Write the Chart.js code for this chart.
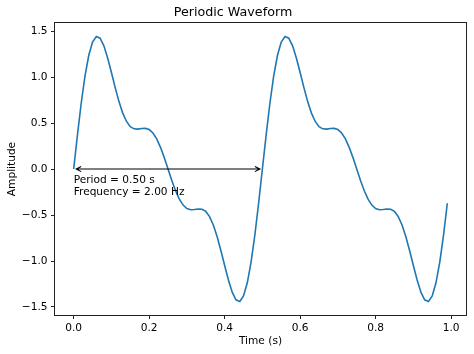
<!DOCTYPE html>
<html>
<head>
<meta charset="utf-8">
<script src="https://cdn.jsdelivr.net/npm/chart.js@4/dist/chart.umd.min.js"></script>
<style>
  html, body { margin: 0; padding: 0; background: #ffffff; }
  #wrap { width: 474px; height: 354px; }
</style>
</head>
<body>
<div id="wrap"><canvas id="c" width="474" height="354"></canvas></div>
<script>
// ---- data ----
const times = [
  0.00,0.01,0.02,0.03,0.04,0.05,0.06,0.07,0.08,0.09,
  0.10,0.11,0.12,0.13,0.14,0.15,0.16,0.17,0.18,0.19,
  0.20,0.21,0.22,0.23,0.24,0.25,0.26,0.27,0.28,0.29,
  0.30,0.31,0.32,0.33,0.34,0.35,0.36,0.37,0.38,0.39,
  0.40,0.41,0.42,0.43,0.44,0.45,0.46,0.47,0.48,0.49,
  0.50,0.51,0.52,0.53,0.54,0.55,0.56,0.57,0.58,0.59,
  0.60,0.61,0.62,0.63,0.64,0.65,0.66,0.67,0.68,0.69,
  0.70,0.71,0.72,0.73,0.74,0.75,0.76,0.77,0.78,0.79,
  0.80,0.81,0.82,0.83,0.84,0.85,0.86,0.87,0.88,0.89,
  0.90,0.91,0.92,0.93,0.94,0.95,0.96,0.97,0.98,0.99
];
const amplitude = [
  0.000,0.372,0.718,1.012,1.237,1.380,1.440,1.422,1.339,1.207,
  1.049,0.885,0.733,0.608,0.517,0.461,0.437,0.434,0.440,0.442,
  0.429,0.392,0.327,0.236,0.124,0.000,-0.124,-0.236,-0.327,-0.392,
  -0.429,-0.442,-0.440,-0.434,-0.437,-0.461,-0.517,-0.608,-0.733,-0.885,
  -1.049,-1.207,-1.339,-1.422,-1.440,-1.380,-1.237,-1.012,-0.718,-0.372,
  0.000,0.372,0.718,1.012,1.237,1.380,1.440,1.422,1.339,1.207,
  1.049,0.885,0.733,0.608,0.517,0.461,0.437,0.434,0.440,0.442,
  0.429,0.392,0.327,0.236,0.124,0.000,-0.124,-0.236,-0.327,-0.392,
  -0.429,-0.442,-0.440,-0.434,-0.437,-0.461,-0.517,-0.608,-0.733,-0.885,
  -1.049,-1.207,-1.339,-1.422,-1.440,-1.380,-1.237,-1.012,-0.718,-0.372
];
const xTicks = [0.0, 0.2, 0.4, 0.6, 0.8, 1.0];
const yTicks = [-1.5, -1.0, -0.5, 0.0, 0.5, 1.0, 1.5];
const periodStart = 0.0;
const periodEnd = 0.5;
const annotationX = 0.0;
const annotationY = -0.3;
const annotationLines = ["Period = 0.50 s", "Frequency = 2.00 Hz"];
const chartTitle = "Periodic Waveform";
const xLabel = "Time (s)";
const yLabel = "Amplitude";

// ---- chart ----
const FONT = "'DejaVu Sans', 'Liberation Sans', sans-serif";
const FS = 10.6;
Chart.defaults.font.family = FONT;
Chart.defaults.font.size = FS;
Chart.defaults.color = '#000';

const points = times.map((t, i) => ({ x: t, y: amplitude[i] }));

function fmtMinus(v, d) {
  const s = Math.abs(v).toFixed(d);
  return (v < -1e-9 ? '\u2212' : '') + s;
}

const framePlugin = {
  id: 'frame',
  afterDraw(chart) {
    const { ctx, chartArea: a, scales } = chart;
    ctx.save();
    // axes frame
    ctx.strokeStyle = '#222';
    ctx.lineWidth = 1;
    ctx.strokeRect(Math.round(a.left) - 0.5, Math.round(a.top) - 0.5,
                   Math.round(a.right - a.left) + 1, Math.round(a.bottom - a.top) + 1);
    // double-headed arrow for the period
    const shrink = 2.5;
    const x0 = scales.x.getPixelForValue(periodStart) + shrink;
    const x1 = scales.x.getPixelForValue(periodEnd) - shrink;
    const y = scales.y.getPixelForValue(0);
    ctx.strokeStyle = '#000';
    ctx.lineWidth = 1.1;
    ctx.beginPath();
    ctx.moveTo(x0, y); ctx.lineTo(x1, y);
    ctx.moveTo(x0 + 5, y - 2.6); ctx.lineTo(x0, y); ctx.lineTo(x0 + 5, y + 2.6);
    ctx.moveTo(x1 - 5, y - 2.6); ctx.lineTo(x1, y); ctx.lineTo(x1 - 5, y + 2.6);
    ctx.stroke();
    // annotation text
    const tx = scales.x.getPixelForValue(annotationX);
    const ty = scales.y.getPixelForValue(annotationY);
    ctx.fillStyle = '#000';
    ctx.font = FS + "px " + FONT;
    ctx.textAlign = 'left';
    ctx.textBaseline = 'alphabetic';
    const lh = 12.3;
    const n = annotationLines.length;
    annotationLines.forEach((line, i) => {
      ctx.fillText(line, tx, ty - 1.5 - (n - 1 - i) * lh);
    });
    ctx.restore();
  }
};

new Chart(document.getElementById('c'), {
  type: 'line',
  data: {
    datasets: [{
      data: points,
      borderColor: '#1f77b4',
      borderWidth: 1.6,
      pointRadius: 0,
      fill: false,
      tension: 0
    }]
  },
  options: {
    responsive: false,
    animation: false,
    events: [],
    layout: { padding: { left: 0, right: 8, top: 0, bottom: 0 } },
    plugins: {
      legend: { display: false },
      tooltip: { enabled: false },
      title: {
        display: true,
        text: chartTitle,
        font: { size: 12.7, weight: 'normal', family: FONT },
        color: '#000',
        padding: { top: 5, bottom: 2.8 }
      }
    },
    scales: {
      x: {
        type: 'linear',
        min: -0.0495,
        max: 1.0395,
        afterBuildTicks: (s) => { s.ticks = xTicks.map(v => ({ value: v })); },
        afterFit: (s) => { s.height = 39; },
        ticks: {
          autoSkip: false,
          maxRotation: 0,
          padding: 3,
          color: '#000',
          font: { size: FS, family: FONT },
          callback: (v) => fmtMinus(v, 1)
        },
        grid: { display: true, drawOnChartArea: false, drawTicks: true, tickLength: 4, color: '#222', lineWidth: 1 },
        border: { display: false },
        title: { display: true, text: xLabel, color: '#000', font: { size: FS, family: FONT }, padding: { top: 0, bottom: 6 } }
      },
      y: {
        type: 'linear',
        min: -1.587,
        max: 1.587,
        afterBuildTicks: (s) => { s.ticks = yTicks.map(v => ({ value: v })); },
        afterFit: (s) => { s.width = 55; },
        ticks: {
          autoSkip: false,
          padding: 3.5,
          color: '#000',
          font: { size: FS, family: FONT },
          callback: (v) => fmtMinus(v, 1)
        },
        grid: { display: true, drawOnChartArea: false, drawTicks: true, tickLength: 4, color: '#222', lineWidth: 1 },
        border: { display: false },
        title: { display: true, text: yLabel, color: '#000', font: { size: FS, family: FONT }, padding: { top: 6, bottom: 0 } }
      }
    }
  },
  plugins: [framePlugin]
});
</script>
</body>
</html>
